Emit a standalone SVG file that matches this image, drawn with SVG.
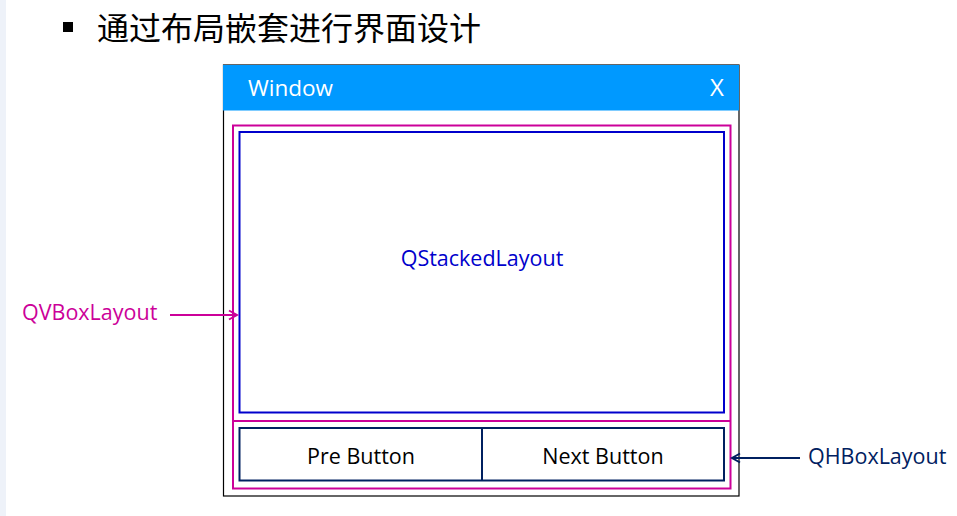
<svg xmlns="http://www.w3.org/2000/svg" width="957" height="516" viewBox="0 0 957 516">
<style>
text{font-family:"Open Sans","Noto Sans","Noto Sans CJK SC",sans-serif}
.mag{fill:none;stroke:#cc0099;stroke-width:2}
.blu{fill:none;stroke:#0000cc;stroke-width:2}
.nav{fill:none;stroke:#002060;stroke-width:2}
.lbl{font-size:21.5px}
</style>
<defs>
<marker id="amag" markerWidth="12" markerHeight="12" refX="10" refY="6" orient="auto" markerUnits="userSpaceOnUse"><path d="M2,1.5 L10,6 L2,10.5" fill="none" stroke="#cc0099" stroke-width="2"/></marker>
<marker id="anav" markerWidth="12" markerHeight="12" refX="10" refY="6" orient="auto" markerUnits="userSpaceOnUse"><path d="M2,1.5 L10,6 L2,10.5" fill="none" stroke="#002060" stroke-width="2"/></marker>
</defs>
<rect x="0" y="0" width="957" height="516" fill="#fff"/>
<rect x="0" y="0" width="6" height="516" fill="#eef2f9"/>
<g id="title">
<rect x="63" y="22" width="10" height="10" fill="#000"/>
<text x="97" y="40" font-size="32" font-family="'Noto Sans CJK SC',sans-serif">通过布局嵌套进行界面设计</text>
</g>
<g id="window">
<rect x="223.5" y="65" width="515.5" height="431" fill="#fff" stroke="#000" stroke-width="1.2"/>
<rect x="223" y="65" width="516" height="45.5" fill="#0099ff"/>
<text x="248" y="96" font-size="22.5" fill="#fff">Window</text>
<text x="710" y="96" font-size="24" fill="#fff">X</text>
</g>
<g id="qvbox">
<rect class="mag" x="233" y="125.5" width="497.5" height="363"/>
<line class="mag" x1="233" y1="421" x2="730.5" y2="421"/>
</g>
<g id="qstacked">
<rect class="blu" x="239.5" y="132" width="484.5" height="280.5"/>
<text class="lbl" x="482" y="266" fill="#0000cc" text-anchor="middle">QStackedLayout</text>
</g>
<g id="qhbox">
<rect class="nav" x="239.5" y="428" width="484.5" height="52.5"/>
<line class="nav" x1="482" y1="428" x2="482" y2="480.5"/>
<text class="lbl" x="361" y="464" fill="#000" text-anchor="middle">Pre Button</text>
<text class="lbl" x="603" y="464" fill="#000" text-anchor="middle">Next Button</text>
</g>
<g id="lbl-qvbox">
<text class="lbl" x="22" y="320" fill="#cc0099">QVBoxLayout</text>
</g>
<g id="lbl-qhbox">
<text class="lbl" x="808" y="464" fill="#002060">QHBoxLayout</text>
</g>
<g id="connectors">
<line x1="170" y1="315" x2="237" y2="315" stroke="#cc0099" stroke-width="1.8" marker-end="url(#amag)"/>
<line x1="800" y1="458" x2="732" y2="458" stroke="#002060" stroke-width="1.8" marker-end="url(#anav)"/>
</g>
</svg>
